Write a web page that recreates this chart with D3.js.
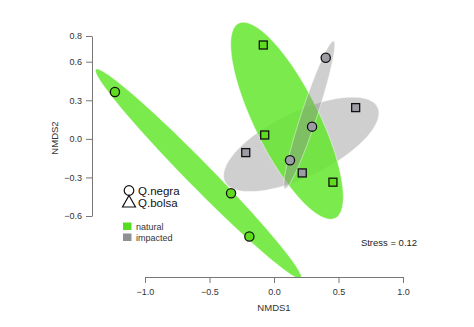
<!DOCTYPE html>
<html>
<head>
<meta charset="utf-8">
<script src="https://cdn.jsdelivr.net/npm/d3@7"></script>
<style>
  html, body { margin: 0; padding: 0; background: #fff; }
  svg { display: block; font-family: "Liberation Sans", Arial, sans-serif; }
</style>
</head>
<body>
<svg id="chart" width="474" height="327"></svg>
<script>
// NMDS site scores, grouped by condition and species
const naturalNegraX   = [-1.233, -0.333, -0.191];
const naturalNegraY   = [ 0.365, -0.423, -0.760];
const impactedNegraX  = [ 0.401,  0.295,  0.124];
const impactedNegraY  = [ 0.631,  0.095, -0.166];
const naturalBolsaX   = [-0.083, -0.072,  0.457];
const naturalBolsaY   = [ 0.730,  0.030, -0.337];
const impactedBolsaX  = [ 0.633, -0.219,  0.219];
const impactedBolsaY  = [ 0.243, -0.107, -0.265];

const xTicks = [-1.0, -0.5, 0.0, 0.5, 1.0];
const yTicks = [0.8, 0.6, 0.3, 0.0, -0.3, -0.6];
const stressValue = 0.12;

// drawing order of the group ellipses
const groups = [
  { xs: impactedBolsaX, ys: impactedBolsaY, cond: "impacted", shape: "square" },
  { xs: naturalBolsaX,  ys: naturalBolsaY,  cond: "natural",  shape: "square" },
  { xs: impactedNegraX, ys: impactedNegraY, cond: "impacted", shape: "circle" },
  { xs: naturalNegraX,  ys: naturalNegraY,  cond: "natural",  shape: "circle" }
];

const ellipseFill = { natural: "rgba(100,230,45,0.85)", impacted: "rgba(140,140,140,0.42)" };
const pointFill   = { natural: "#5fdc1e", impacted: "#9c9ca4" };

const svg = d3.select("#chart");
const x = d3.scaleLinear().domain([-1, 1]).range([145, 403]);
const y = d3.scaleLinear().domain([-0.6, 0.8]).range([216, 36]);
const fmt = v => d3.format(".1f")(v).replace("-", "\u2212");

// plotting region clip
svg.append("clipPath").attr("id", "plotclip")
  .append("rect").attr("x", 92).attr("y", 0).attr("width", 380).attr("height", 277);

// 95% confidence ellipse of the group centroid (standard error)
function seEllipse(xs, ys) {
  const n = xs.length;
  const mx = d3.mean(xs), my = d3.mean(ys);
  let sxx = 0, syy = 0, sxy = 0;
  for (let i = 0; i < n; i++) {
    const dx = xs[i] - mx, dy = ys[i] - my;
    sxx += dx * dx; syy += dy * dy; sxy += dx * dy;
  }
  sxx /= (n - 1) * n; syy /= (n - 1) * n; sxy /= (n - 1) * n;
  const tr = sxx + syy, det = sxx * syy - sxy * sxy;
  const disc = Math.sqrt(Math.max(tr * tr / 4 - det, 0));
  const l1 = tr / 2 + disc, l2 = Math.max(tr / 2 - disc, 0);
  const ang = Math.atan2(l1 - sxx, sxy);
  const k = Math.sqrt(5.991465); // chi-square 0.95, 2 df
  const a = k * Math.sqrt(l1), b = k * Math.sqrt(l2);
  return d3.range(0, 121).map(i => {
    const t = i / 120 * 2 * Math.PI;
    const u = a * Math.cos(t), v = b * Math.sin(t);
    return [mx + u * Math.cos(ang) - v * Math.sin(ang),
            my + u * Math.sin(ang) + v * Math.cos(ang)];
  });
}

const line = d3.line().x(d => x(d[0])).y(d => y(d[1]));
const eg = svg.append("g").attr("clip-path", "url(#plotclip)");
groups.forEach(g => {
  eg.append("path")
    .attr("d", line(seEllipse(g.xs, g.ys)) + "Z")
    .attr("fill", ellipseFill[g.cond])
    .attr("stroke", "rgba(255,255,255,0.45)")
    .attr("stroke-width", 1);
});

// points
const pg = svg.append("g");
groups.forEach(g => {
  g.xs.forEach((xv, i) => {
    const px = x(xv), py = y(g.ys[i]);
    if (g.shape === "circle") {
      pg.append("circle").attr("cx", px).attr("cy", py).attr("r", 4.6)
        .attr("fill", pointFill[g.cond]).attr("stroke", "#111").attr("stroke-width", 1.3);
    } else {
      pg.append("rect").attr("x", px - 4).attr("y", py - 4).attr("width", 8).attr("height", 8)
        .attr("fill", pointFill[g.cond]).attr("stroke", "#111").attr("stroke-width", 1.3);
    }
  });
});

// axes
const axisColor = "#777";
const xAxis = svg.append("g").attr("transform", "translate(0,277)")
  .call(d3.axisBottom(x).tickValues(xTicks).tickFormat(fmt).tickSize(6).tickSizeOuter(0));
const yAxis = svg.append("g").attr("transform", "translate(92,0)")
  .call(d3.axisLeft(y).tickValues(yTicks).tickFormat(fmt).tickSize(6).tickSizeOuter(0));
[xAxis, yAxis].forEach(ax => {
  ax.select(".domain").attr("stroke", axisColor);
  ax.selectAll(".tick line").attr("stroke", axisColor);
  ax.selectAll(".tick text").attr("fill", "#333").style("font-size", "9px")
    .style("font-family", "Liberation Sans, Arial, sans-serif");
});
xAxis.selectAll(".tick text").attr("dy", "0.71em").attr("y", 12);
yAxis.selectAll(".tick text").attr("x", -10);

svg.append("text").attr("x", 274).attr("y", 311).attr("text-anchor", "middle")
  .attr("fill", "#333").style("font-size", "9.5px").text("NMDS1");
svg.append("text").attr("transform", "translate(58,138) rotate(-90)")
  .attr("text-anchor", "middle").attr("fill", "#333").style("font-size", "9.5px").text("NMDS2");

// species legend
const lg = svg.append("g");
lg.append("circle").attr("cx", 129).attr("cy", 190.5).attr("r", 4.8)
  .attr("fill", "none").attr("stroke", "#111").attr("stroke-width", 1.2);
lg.append("path").attr("d", "M129,195.5 L135.5,207 L122.5,207 Z")
  .attr("fill", "none").attr("stroke", "#111").attr("stroke-width", 1.2);
lg.append("text").attr("x", 138).attr("y", 194.5).attr("fill", "#111")
  .style("font-size", "11.5px").text("Q.negra");
lg.append("text").attr("x", 138).attr("y", 207).attr("fill", "#111")
  .style("font-size", "11.5px").text("Q.bolsa");

// condition legend
const conds = ["natural", "impacted"];
const boxFill = { natural: "#55dd22", impacted: "#8f9096" };
conds.forEach((c, i) => {
  lg.append("rect").attr("x", 123).attr("y", 222.5 + i * 11).attr("width", 8.5).attr("height", 7.5)
    .attr("fill", boxFill[c]);
  lg.append("text").attr("x", 136).attr("y", 229.5 + i * 11).attr("fill", "#333")
    .style("font-size", "9px").text(c);
});

svg.append("text").attr("x", 389).attr("y", 245.5).attr("text-anchor", "middle")
  .attr("fill", "#222").style("font-size", "9.5px").text("Stress = " + stressValue.toFixed(2));
</script>
</body>
</html>
